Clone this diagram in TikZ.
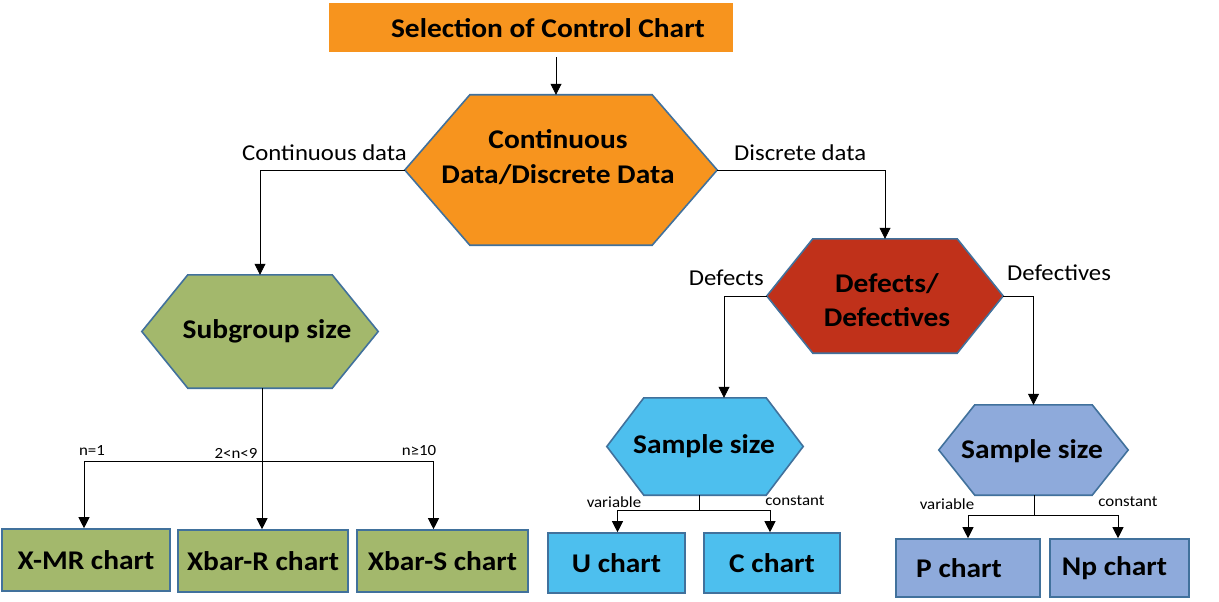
\documentclass[tikz,border=0pt]{standalone}
\usepackage{fontspec}
\setmainfont{Carlito}[FakeStretch=1.09]
\usetikzlibrary{arrows.meta,backgrounds}
\definecolor{orng}{HTML}{F7941E}
\definecolor{redd}{HTML}{C0311A}
\definecolor{grn}{HTML}{A3B86C}
\definecolor{lblue}{HTML}{4DBFEE}
\definecolor{peri}{HTML}{8EAADB}
\definecolor{edge}{HTML}{41719C}
\newcommand\hexpath[3]{%
  \begin{scope}[on background layer]
  \filldraw[hexline, fill=#3] (#1.west) -- ([xshift=#2]#1.north west) -- ([xshift=-#2]#1.north east) -- (#1.east) -- ([xshift=-#2]#1.south east) -- ([xshift=#2]#1.south west) -- cycle;
  \end{scope}}
\begin{document}
\begin{tikzpicture}[x=1pt,y=-1pt,
  hexline/.style={draw=edge, line width=1.6pt, line join=miter},
  hexbox/.style={inner sep=0pt, minimum width=#1},
  bigfont/.style={font=\fontsize{27}{35}\selectfont\bfseries},
  chartbox/.style={draw=edge, line width=1.6pt, inner sep=0pt, bigfont},
  hextext/.style={bigfont, align=center, inner sep=0pt},
  lab/.style={font=\fontsize{22.7}{26}\selectfont, inner sep=0pt},
  slab/.style={font=\fontsize{15.5}{18}\selectfont, inner sep=0pt},
  conn/.style={draw=black, line width=0.8pt, -{Triangle[length=11pt,width=11pt]}},
  plain/.style={draw=black, line width=0.8pt}]
\begin{scope}[on background layer]
\fill[white] (0,0) rectangle (1219,602);
\end{scope}
\useasboundingbox (0,0) rectangle (1219,602);

% title
\node[fill=orng, minimum width=404pt, minimum height=49pt, inner sep=0pt] (title) at (531,27.5) {};
\node[bigfont, inner sep=0pt] (titletext) at (548,28) {Selection of Control Chart};

% hexagons
\node[hexbox=312pt, minimum height=150pt] (hex1) at (561,170) {};
\hexpath{hex1}{65pt}{orng}
\node[hextext] (hex1t) at (558,157) {Continuous\\Data/Discrete Data};

\node[hexbox=236pt, minimum height=114pt] (def) at (885,296) {};
\hexpath{def}{46pt}{redd}
\node[hextext, font=\fontsize{27}{34}\selectfont\bfseries] (deft) at (887,300) {Defects/\\Defectives};

\node[hexbox=236pt, minimum height=113pt] (sub) at (260,331.5) {};
\hexpath{sub}{46pt}{grn}
\node[hextext] (subt) at (267,331) {Subgroup size};

\node[hexbox=196pt, minimum height=97pt] (ss1) at (705,446.5) {};
\hexpath{ss1}{37pt}{lblue}
\node[hextext] (ss1t) at (704,446) {Sample size};

\node[hexbox=189pt, minimum height=90pt] (ss2) at (1033.5,450) {};
\hexpath{ss2}{36pt}{peri}
\node[hextext] (ss2t) at (1032,451) {Sample size};

% chart boxes
\node[chartbox, fill=grn, minimum width=168pt, minimum height=62pt] (xmr) at (86,560) {X-MR chart};
\node[chartbox, fill=grn, minimum width=170pt, minimum height=62pt] (xbr) at (263,561) {Xbar-R chart};
\node[chartbox, fill=grn, minimum width=171pt, minimum height=62pt] (xbs) at (442.5,561) {Xbar-S chart};
\node[chartbox, fill=lblue, minimum width=137pt, minimum height=60pt] (u) at (616.5,563) {U chart};
\node[chartbox, fill=lblue, minimum width=136pt, minimum height=60pt] (c) at (772,563) {C chart};
\node[chartbox, fill=peri, minimum width=144pt, minimum height=58pt] (p) at (968,568) {\hspace*{-18pt}P chart};
\node[chartbox, fill=peri, minimum width=139pt, minimum height=58pt] (np) at (1119.5,568) {\hspace*{-10pt}Np chart};

% labels
\node[lab, anchor=east] (lcont) at (407,153) {Continuous data};
\node[lab, anchor=west] (ldisc) at (734,153) {Discrete data};
\node[lab, anchor=east] (ldefects) at (764,278) {Defects};
\node[lab, anchor=west] (ldefectives) at (1007,273) {Defectives};
\node[slab] (ln1) at (92,451) {n=1};
\node[slab] (ln2) at (236,453) {2<n<9};
\node[slab] (ln3) at (419,451) {n≥10};
\node[slab] (lv1) at (614,502) {variable};
\node[slab] (lc1) at (795,501) {constant};
\node[slab] (lv2) at (947,504) {variable};
\node[slab] (lc2) at (1128,502) {constant};

% connectors
\draw[conn, shorten <=5pt] ([xshift=25pt]title.south) -- ([xshift=-5pt]hex1.north);
\draw[conn] (hex1.west) -| (sub.north);
\draw[conn] (hex1.east) -| (def.north);
\draw[conn] (def.west) -| ([xshift=19pt]ss1.north);
\draw[conn] (def.east) -| (ss2.north);

\coordinate (j1) at (262,461.5);
\draw[conn] ([xshift=2pt]sub.south) -- ([xshift=-1pt]xbr.north);
\draw[conn] (j1) -| ([xshift=-2pt]xmr.north);
\draw[conn] (j1) -| ([xshift=-9pt]xbs.north);

\coordinate (j2) at (699,510);
\draw[plain] ([xshift=-6pt]ss1.south) -- (j2);
\draw[conn] (j2) -| ([xshift=1pt]u.north);
\draw[conn] (j2) -| ([xshift=-2pt]c.north);

\coordinate (j3) at (1034,515);
\draw[plain] ([xshift=0.5pt]ss2.south) -- (j3);
\draw[conn] (j3) -| (p.north);
\draw[conn] (j3) -| ([xshift=-1.5pt]np.north);
\end{tikzpicture}
\end{document}
